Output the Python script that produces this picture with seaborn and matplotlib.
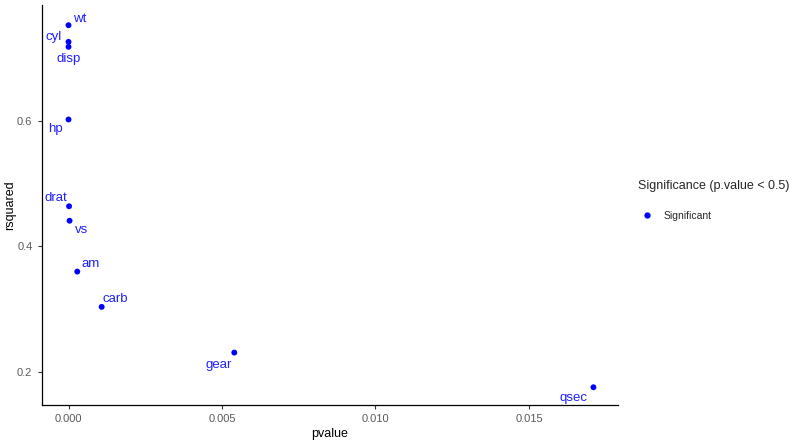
import matplotlib
matplotlib.use("Agg")
import matplotlib.pyplot as plt
import seaborn as sns
import pandas as pd

# mtcars: single-variable regressions of mpg
variables = ["wt", "cyl", "disp", "hp", "drat", "vs", "am", "carb", "gear", "qsec"]
pvalues = [1.29e-10, 6.11e-10, 9.38e-10, 1.79e-07, 1.78e-05,
           3.42e-05, 2.85e-04, 1.08e-03, 5.40e-03, 1.71e-02]
rsquared = [0.7528, 0.7262, 0.7183, 0.6024, 0.4640,
            0.4409, 0.3598, 0.3035, 0.2306, 0.1753]
significance = ["Significant"] * len(variables)

df = pd.DataFrame({
    "variable": variables,
    "pvalue": pvalues,
    "rsquared": rsquared,
    "Significance": significance,
})

# label offsets in pixels (repel-like placement)
offsets = {
    "wt": (11, 6), "cyl": (-15, 5), "disp": (0, -12), "hp": (-13, -10),
    "drat": (-13, 8), "vs": (12, -9), "am": (13, 8), "carb": (14, 8),
    "gear": (-16, -12), "qsec": (-20, -11),
}

sns.set_style("white")
plt.rcParams["font.family"] = ["Liberation Sans", "DejaVu Sans"]

fig = plt.figure(figsize=(7.99, 4.43), dpi=100)
ax = fig.add_axes([41.5 / 799, 38 / 443, 576.5 / 799, 400 / 443])

sns.scatterplot(
    data=df,
    x="pvalue",
    y="rsquared",
    hue="Significance",
    palette={"Significant": "#0000ff"},
    s=18,
    edgecolor="none",
    ax=ax,
    legend=False
)

for _, row in df.iterrows():
    dx, dy = offsets[row["variable"]]
    ax.annotate(
        row["variable"],
        (row["pvalue"], row["rsquared"]),
        xytext=(dx, dy),
        textcoords="offset pixels",
        ha="center",
        va="center",
        color="#1f1fff",
        fontsize=9.5
    )

ax.set_xlim(-0.00088, 0.0179)
ax.set_ylim(0.147, 0.785)
ax.set_xticks([0.0, 0.005, 0.010, 0.015])
ax.set_xticklabels(["0.000", "0.005", "0.010", "0.015"])
ax.set_yticks([0.2, 0.4, 0.6])
ax.set_yticklabels(["0.2", "0.4", "0.6"])
ax.tick_params(axis="both", colors="#333333", labelsize=8, length=3, width=0.8,
               direction="out", bottom=True, left=True)
for lab in ax.get_xticklabels() + ax.get_yticklabels():
    lab.set_color("#5a5a5a")

sns.despine(ax=ax)
for side in ["left", "bottom"]:
    ax.spines[side].set_color("black")
    ax.spines[side].set_linewidth(0.9)

ax.set_xlabel("pvalue", fontsize=9, color="black", labelpad=3)
ax.set_ylabel("rsquared", fontsize=9, color="black", labelpad=1)

# legend
fig.text(638 / 799, 1 - 186 / 443, "Significance (p.value < 0.5)",
         fontsize=9, va="center", ha="left")
fig.lines.append(plt.Line2D([647 / 799], [1 - 215 / 443], marker="o",
                            markersize=3.5, color="#0000ff", linestyle="none",
                            transform=fig.transFigure, figure=fig))
fig.text(664 / 799, 1 - 216 / 443, "Significant",
         fontsize=7.5, va="center", ha="left")

fig.savefig("out.png", dpi=100)
plt.close(fig)
